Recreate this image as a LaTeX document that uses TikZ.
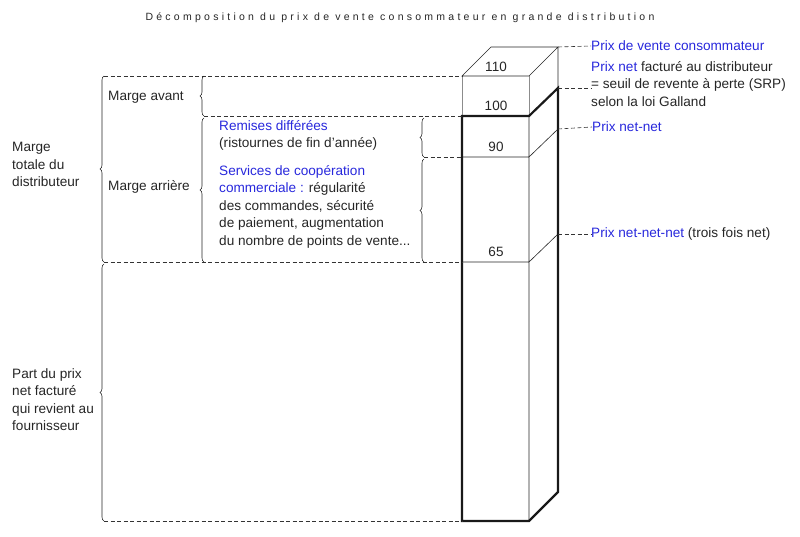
\documentclass[tikz,border=0pt]{standalone}
\usepackage{fontspec}
\setmainfont{Liberation Sans}
\usetikzlibrary{decorations.pathreplacing}
\definecolor{lblue}{RGB}{40,40,220}
\newcommand{\bl}[1]{\textcolor{lblue}{#1}}
\begin{document}
\begin{tikzpicture}[x=1pt,y=1pt,
  txt/.style={inner sep=0pt,anchor=north west,align=left,font=\fontsize{13.6}{17.5}\selectfont,text=black!85},
  num/.style={inner sep=0pt,font=\fontsize{13.5}{14}\selectfont,text=black!85},
  dsh/.style={dashed,dash pattern=on 4pt off 2.5pt,line width=0.6pt,black!80},
  brc/.style={decorate,decoration={brace,amplitude=4pt},line width=0.6pt,black!85},
  thin/.style={line width=0.6pt,black!85}]
\useasboundingbox (0,0) rectangle (800,-537);
\node[inner sep=0pt,font=\fontsize{10.5}{12}\selectfont\addfontfeature{LetterSpace=31},text=black!85] (title) at (400,-18) {Décomposition du prix de vente consommateur en grande distribution};
% box coordinates
\coordinate (ftl) at (462,-76); \coordinate (ftr) at (529,-76);
\coordinate (btl) at (491,-47); \coordinate (btr) at (558,-47);
\coordinate (a) at (462,-116); \coordinate (b) at (529,-116); \coordinate (bb) at (558,-88);
\coordinate (c) at (462,-157); \coordinate (d) at (529,-157); \coordinate (db) at (558,-129);
\coordinate (e) at (462,-262); \coordinate (f) at (529,-262); \coordinate (fb) at (558,-234);
\coordinate (g) at (462,-521); \coordinate (h) at (529,-521); \coordinate (hb) at (558,-492);
% top part
\draw[line width=0.6pt,black!45] (ftl) -- (a) (ftr) -- (b);
\draw[thin] (ftl) -- (ftr) -- (btr) -- (btl) -- cycle (btr) -- (bb);
\draw[thin] (b) -- (h) (c) -- (d) -- (db) (e) -- (f) -- (fb);
\draw[line width=2.2pt,black!90,line join=miter] (a) -- (b) -- (bb) -- (hb) -- (h) -- (g) -- cycle;
\node[num] (n110) at (496,-67) {110};
\node[num] (n100) at (496,-106) {100};
\node[num] (n90) at (496,-147) {90};
\node[num] (n65) at (496,-252) {65};
% right labels
\node[txt,anchor=west] (pvc) at (591,-46) {\bl{Prix de vente consommateur}};
\node[txt] (pn) at (591,-61) {\bl{Prix net} facturé au distributeur\\= seuil de revente à perte (SRP)\\selon la loi Galland};
\node[txt,anchor=west] (pnn) at (592,-127) {\bl{Prix net-net}};
\node[txt,anchor=west] (pnnn) at (591,-234) {\bl{Prix net-net-net} (trois fois net)};
\draw[dsh] (btr) -- (pvc.west);
\draw[dsh] (bb) -- (591,-88);
\draw[dsh] (db) -- (pnn.west);
\draw[dsh] (fb) -- (pnnn.west);
% left dashed lines
\draw[dsh] (104,-76) -- (ftl);
\draw[dsh] (204,-116) -- (a);
\draw[dsh] (424,-157) -- (c);
\draw[dsh] (104,-262) -- (e);
\draw[dsh] (104,-521) -- (g);
% braces
\draw[brc] (104,-262) -- (104,-76);
\draw[brc] (204,-116) -- (204,-76);
\draw[brc] (204,-262) -- (204,-118);
\draw[brc] (424,-157) -- (424,-118);
\draw[brc] (424,-262) -- (424,-159);
\draw[brc] (104,-521) -- (104,-264);
% left labels
\node[txt] (mt) at (12,-142) {Marge\\totale du\\distributeur};
\node[txt,anchor=west] (ma) at (108,-97) {Marge avant};
\node[txt,anchor=west] (mar) at (108,-187) {Marge arrière};
\node[txt] (rd) at (219,-120) {\bl{Remises différées}\\(ristournes de fin d’année)};
\node[txt] (sc) at (219,-165) {\bl{Services de coopération}\\\bl{commerciale :} régularité\\des commandes, sécurité\\de paiement, augmentation\\du nombre de points de vente...};
\node[txt] (pp) at (12,-368) {Part du prix\\net facturé\\qui revient au\\fournisseur};
\end{tikzpicture}
\end{document}
